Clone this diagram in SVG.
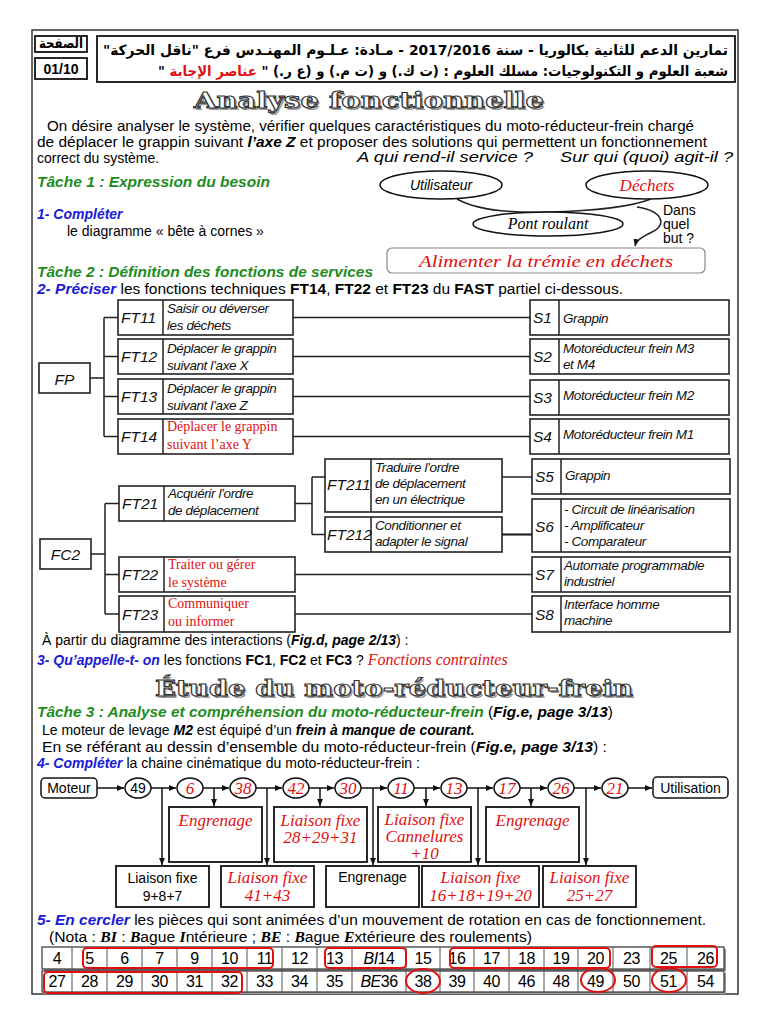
<svg xmlns="http://www.w3.org/2000/svg" width="768" height="1024" viewBox="0 0 768 1024">
<defs>
<style>
.t{font-family:"Liberation Sans",Arial,sans-serif;font-size:14px;fill:#000}
.it{font-style:italic}
.bd{font-weight:bold}
.gr{font-family:"Liberation Sans",Arial,sans-serif;font-size:14px;font-weight:bold;font-style:italic;fill:#1e8c1e}
.bl{font-weight:bold;font-style:italic;fill:#1a1ad6}
.rs{font-family:"Liberation Serif","Times New Roman",serif;font-style:italic;fill:#e01010}
.rn{font-family:"Liberation Serif","Times New Roman",serif;fill:#e01010;font-size:14px}
.box{fill:#fff;stroke:#222;stroke-width:1.6}
.ln{stroke:#222;stroke-width:1.5;fill:none}
.lbl{font-family:"Liberation Sans",Arial,sans-serif;font-style:italic;font-size:15.5px;fill:#111}
.dsc{font-family:"Liberation Sans",Arial,sans-serif;font-style:italic;font-size:13.5px;fill:#111;letter-spacing:-0.4px}
.ar{font-family:"DejaVu Sans",sans-serif;font-weight:bold;font-size:14px;fill:#000}
.ttl{font-family:"DejaVu Serif",serif;font-weight:bold;font-size:23px;fill:#fff;stroke:#333;stroke-width:1.1}
.sh{font-family:"DejaVu Serif",serif;font-weight:bold;font-size:23px;fill:#999}
.cb{fill:#fff;stroke:#111;stroke-width:1.8}
.cr{fill:#fff;stroke:#111;stroke-width:1.5}
.num{font-family:"Liberation Serif","Times New Roman",serif;font-style:italic;font-size:17px;fill:#e01010}
.tn{font-family:"Liberation Sans",Arial,sans-serif;font-size:16px;fill:#000;text-anchor:middle;letter-spacing:-0.5px}
.rg{fill:none;stroke:#e01010;stroke-width:2}
</style>
<marker id="ah" markerWidth="8" markerHeight="8" refX="7" refY="4" orient="auto" markerUnits="userSpaceOnUse"><path d="M0,1 L7,4 L0,7 z" fill="#111"/></marker>
</defs>
<rect width="768" height="1024" fill="#fff"/>
<rect x="32" y="30" width="706" height="964" fill="none" stroke="#333" stroke-width="1.5"/>
<g id="header">
<rect x="35" y="36" width="52" height="16" fill="#fff" stroke="#111" stroke-width="1.8"/>
<text x="61" y="48" class="ar" font-size="11" text-anchor="middle" textLength="44" lengthAdjust="spacingAndGlyphs">الصفحة</text>
<rect x="35" y="58" width="52" height="21" fill="#fff" stroke="#111" stroke-width="1.8"/>
<text x="61" y="74" class="t bd" font-size="16" text-anchor="middle">01/10</text>
<rect x="97" y="36" width="638" height="46" fill="#fff" stroke="#111" stroke-width="1.8"/>
<text x="728" y="55" class="ar" direction="rtl" text-anchor="start" textLength="625" lengthAdjust="spacingAndGlyphs">تمارين الدعم للثانية بكالوريا - سنة 2017/2016 - مـادة: عـلـوم المهنـدس فرع "ناقل الحركة"</text>
<text x="728" y="76" class="ar" direction="rtl" text-anchor="start" textLength="570" lengthAdjust="spacingAndGlyphs">شعبة العلوم و التكنولوجيات: مسلك العلوم : (ت ك.) و (ت م.) و (ع ر.) " <tspan fill="#e01010">عناصر الإجابة</tspan> "</text>
</g>
<text x="196" y="110" class="sh" textLength="350" lengthAdjust="spacingAndGlyphs">Analyse fonctionnelle</text>
<text x="194" y="108" class="ttl" textLength="350" lengthAdjust="spacingAndGlyphs">Analyse fonctionnelle</text>
<text x="47" y="131" class="t" textLength="647" lengthAdjust="spacingAndGlyphs">On désire analyser le système, vérifier quelques caractéristiques du moto-réducteur-frein chargé</text>
<text x="37" y="147" class="t" textLength="670" lengthAdjust="spacingAndGlyphs">de déplacer le grappin suivant <tspan class="bd it">l’axe Z</tspan> et proposer des solutions qui permettent un fonctionnement</text>
<text x="37" y="163" class="t">correct du système.</text>
<text x="357" y="162" class="t it" font-size="15" textLength="176" lengthAdjust="spacingAndGlyphs">A qui rend-il service ?</text>
<text x="560" y="162" class="t it" font-size="15" textLength="173" lengthAdjust="spacingAndGlyphs">Sur qui (quoi) agit-il ?</text>
<text x="37" y="187" class="gr" textLength="233" lengthAdjust="spacingAndGlyphs">Tâche 1 : Expression du besoin</text>
<text x="37" y="219" class="t bl">1- Compléter</text>
<text x="67" y="236" class="t">le diagramme « bête à cornes »</text>
<g id="connectors-bac">
<path class="ln" stroke-width="1.2" d="M457,199 C478,211 515,213 548,212 C592,211 628,208 651,199"/>
<path class="ln" stroke-width="1.2" d="M637,207 C662,211 668,224 652,232 C640,238 636,241 635,246" marker-end="url(#ah)"/>
</g>
<g id="n-utilisateur"><ellipse cx="441" cy="185" rx="61" ry="14" fill="#fff" stroke="#111" stroke-width="1.5"/><text x="441" y="190" class="t it" font-size="15" text-anchor="middle">Utilisateur</text></g>
<g id="n-dechets"><ellipse cx="647" cy="185" rx="61" ry="14" fill="#fff" stroke="#111" stroke-width="1.5"/><text x="647" y="191" class="rs" font-size="17" text-anchor="middle">Déchets</text></g>
<g id="n-pont"><ellipse cx="548" cy="224" rx="75" ry="12" fill="#fff" stroke="#111" stroke-width="1.5"/><text x="548" y="229" font-family="Liberation Serif,serif" font-style="italic" font-size="16" text-anchor="middle">Pont roulant</text></g>
<text x="663" y="215" class="t" font-size="13.5">Dans</text>
<text x="663" y="229" class="t" font-size="13.5">quel</text>
<text x="663" y="243" class="t" font-size="13.5">but ?</text>
<g id="n-but"><rect x="387" y="248" width="318" height="25" rx="5" fill="#fff" stroke="#888" stroke-width="1.2"/><text x="546" y="267" class="rs" font-size="17" text-anchor="middle" textLength="254" lengthAdjust="spacingAndGlyphs">Alimenter la trémie en déchets</text></g>
<text x="37" y="277" class="gr" textLength="336" lengthAdjust="spacingAndGlyphs">Tâche 2 : Définition des fonctions de services</text>
<text x="37" y="294" class="t" textLength="586" lengthAdjust="spacingAndGlyphs"><tspan class="bl">2- Préciser</tspan> les fonctions techniques <tspan class="bd">FT14</tspan>, <tspan class="bd">FT22</tspan> et <tspan class="bd">FT23</tspan> du <tspan class="bd">FAST</tspan> partiel ci-dessous.</text>
<g id="fast-connectors" class="ln">
<path d="M90,378 H104 M104,317.5 V436.5 M104,317.5 H118 M104,356.5 H118 M104,396.5 H118 M104,436.5 H118"/>
<path d="M293,317.5 H530 M293,356.5 H530 M293,396.5 H530 M293,436.5 H530"/>
<path d="M91,554 H105 M105,503.5 V614 M105,503.5 H119 M105,574.5 H119 M105,614 H119"/>
<path d="M295,503.5 H312 M312,477 V534.5 M312,477 H325 M312,534.5 H325"/>
<path d="M502,477 H532"/>
<path d="M502,534.5 H532" stroke-width="2.2"/>
<path d="M295,574.5 H532 M295,614 H532"/>
</g>
<g id="n-FP"><rect class="box" x="39" y="363" width="51" height="30"/><text x="64.5" y="385" class="lbl" font-size="19" text-anchor="middle">FP</text></g>
<g id="n-FT11"><rect class="box" x="118" y="300" width="175" height="35"/><path class="ln" d="M163,300 V335"/><text x="121" y="323" class="lbl">FT11</text><text x="167" y="313" class="dsc">Saisir ou déverser</text><text x="167" y="330" class="dsc">les déchets</text></g>
<g id="n-FT12"><rect class="box" x="118" y="339" width="175" height="35"/><path class="ln" d="M163,339 V374"/><text x="121" y="362" class="lbl">FT12</text><text x="167" y="353" class="dsc">Déplacer le grappin</text><text x="167" y="370" class="dsc">suivant l’axe X</text></g>
<g id="n-FT13"><rect class="box" x="118" y="379" width="175" height="35"/><path class="ln" d="M163,379 V414"/><text x="121" y="402" class="lbl">FT13</text><text x="167" y="393" class="dsc">Déplacer le grappin</text><text x="167" y="410" class="dsc">suivant l’axe Z</text></g>
<g id="n-FT14"><rect class="box" x="118" y="419" width="175" height="35"/><path class="ln" d="M163,419 V454"/><text x="121" y="442" class="lbl">FT14</text><text x="167" y="431" class="rn">Déplacer le grappin</text><text x="167" y="449" class="rn">suivant l’axe Y</text></g>
<g id="n-S1"><rect class="box" x="530" y="300" width="199" height="35"/><path class="ln" d="M559,300 V335"/><text x="533" y="323" class="lbl">S1</text><text x="563" y="323" class="dsc">Grappin</text></g>
<g id="n-S2"><rect class="box" x="530" y="339" width="199" height="35"/><path class="ln" d="M559,339 V374"/><text x="533" y="362" class="lbl">S2</text><text x="563" y="353" class="dsc">Motoréducteur frein M3</text><text x="563" y="369" class="dsc">et M4</text></g>
<g id="n-S3"><rect class="box" x="530" y="380" width="199" height="35"/><path class="ln" d="M559,380 V415"/><text x="533" y="403" class="lbl">S3</text><text x="563" y="400" class="dsc">Motoréducteur frein M2</text></g>
<g id="n-S4"><rect class="box" x="530" y="419" width="199" height="35"/><path class="ln" d="M559,419 V454"/><text x="533" y="442" class="lbl">S4</text><text x="563" y="439" class="dsc">Motoréducteur frein M1</text></g>
<g id="n-FC2"><rect class="box" x="40" y="539" width="51" height="30"/><text x="65.5" y="560" class="lbl" font-size="18" text-anchor="middle">FC2</text></g>
<g id="n-FT21"><rect class="box" x="119" y="486" width="176" height="35"/><path class="ln" d="M164,486 V521"/><text x="122" y="509" class="lbl">FT21</text><text x="168" y="498" class="dsc">Acquérir l’ordre</text><text x="168" y="515" class="dsc">de déplacement</text></g>
<g id="n-FT211"><rect class="box" x="325" y="459" width="177" height="53"/><path class="ln" d="M371,459 V512"/><text x="327" y="490" class="lbl" font-size="14">FT211</text><text x="375" y="472" class="dsc">Traduire l’ordre</text><text x="375" y="488" class="dsc">de déplacement</text><text x="375" y="504" class="dsc">en un électrique</text></g>
<g id="n-FT212"><rect class="box" x="325" y="517" width="177" height="35"/><path class="ln" d="M371,517 V552"/><text x="327" y="540" class="lbl" font-size="14">FT212</text><text x="375" y="530" class="dsc">Conditionner et</text><text x="375" y="546" class="dsc">adapter le signal</text></g>
<g id="n-FT22"><rect class="box" x="119" y="557" width="176" height="35"/><path class="ln" d="M164,557 V592"/><text x="122" y="580" class="lbl">FT22</text><text x="168" y="569" class="rn">Traiter ou gérer</text><text x="168" y="587" class="rn">le système</text></g>
<g id="n-FT23"><rect class="box" x="119" y="596" width="176" height="36"/><path class="ln" d="M164,596 V632"/><text x="122" y="620" class="lbl">FT23</text><text x="168" y="608" class="rn">Communiquer</text><text x="168" y="626" class="rn">ou informer</text></g>
<g id="n-S5"><rect class="box" x="532" y="459" width="198" height="35"/><path class="ln" d="M561,459 V494"/><text x="535" y="482" class="lbl">S5</text><text x="565" y="480" class="dsc">Grappin</text></g>
<g id="n-S6"><rect class="box" x="532" y="499" width="198" height="53"/><path class="ln" d="M561,499 V552"/><text x="535" y="532" class="lbl">S6</text><text x="564" y="514" class="dsc">- Circuit de linéarisation</text><text x="564" y="530" class="dsc">- Amplificateur</text><text x="564" y="546" class="dsc">- Comparateur</text></g>
<g id="n-S7"><rect class="box" x="532" y="557" width="198" height="35"/><path class="ln" d="M561,557 V592"/><text x="535" y="580" class="lbl">S7</text><text x="564" y="570" class="dsc">Automate programmable</text><text x="564" y="586" class="dsc">industriel</text></g>
<g id="n-S8"><rect class="box" x="532" y="596" width="198" height="36"/><path class="ln" d="M561,596 V632"/><text x="535" y="620" class="lbl">S8</text><text x="564" y="609" class="dsc">Interface homme</text><text x="564" y="625" class="dsc">machine</text></g>
<text x="42" y="645" class="t">À partir du diagramme des interactions (<tspan class="bd it">Fig.d, page 2/13</tspan>) :</text>
<text x="37" y="665" class="t"><tspan class="bl">3- Qu’appelle-t- on</tspan> les fonctions <tspan class="bd">FC1</tspan>, <tspan class="bd">FC2</tspan> et <tspan class="bd">FC3</tspan> ? <tspan class="rs" font-size="16">Fonctions contraintes</tspan></text>
<text x="157" y="698" class="sh" textLength="478" lengthAdjust="spacingAndGlyphs">Étude du moto-réducteur-frein</text>
<text x="155" y="696" class="ttl" textLength="478" lengthAdjust="spacingAndGlyphs">Étude du moto-réducteur-frein</text>
<text x="37" y="717" class="t" textLength="576" lengthAdjust="spacingAndGlyphs"><tspan class="gr">Tâche 3 : Analyse et compréhension du moto-réducteur-frein</tspan> (<tspan class="bd it">Fig.e, page 3/13</tspan>)</text>
<text x="42" y="735" class="t">Le moteur de levage <tspan class="bd it">M2</tspan> est équipé d’un <tspan class="bd it">frein à manque de courant.</tspan></text>
<text x="42" y="752" class="t" textLength="565" lengthAdjust="spacingAndGlyphs">En se référant au dessin d’ensemble du moto-réducteur-frein (<tspan class="bd it">Fig.e, page 3/13</tspan>) :</text>
<text x="37" y="768" class="t"><tspan class="bl">4- Compléter</tspan> la chaine cinématique du moto-réducteur-frein :</text>
<g id="chain-connectors" stroke="#111" stroke-width="1.5" fill="none">
<path d="M97,788 H124" marker-end="url(#ah)"/>
<path d="M151,788 H176" marker-end="url(#ah)"/>
<path d="M203,788 H229" marker-end="url(#ah)"/>
<path d="M256,788 H282" marker-end="url(#ah)"/>
<path d="M309,788 H334" marker-end="url(#ah)"/>
<path d="M361,788 H387" marker-end="url(#ah)"/>
<path d="M414,788 H440" marker-end="url(#ah)"/>
<path d="M467,788 H493" marker-end="url(#ah)"/>
<path d="M520,788 H547" marker-end="url(#ah)"/>
<path d="M574,788 H601" marker-end="url(#ah)"/>
<path d="M628,788 H652" marker-end="url(#ah)"/>
<path d="M162,788 V865" marker-end="url(#ah)"/>
<path d="M214,788 V806" marker-end="url(#ah)"/>
<path d="M267,788 V865" marker-end="url(#ah)"/>
<path d="M320,788 V806" marker-end="url(#ah)"/>
<path d="M373,788 V865" marker-end="url(#ah)"/>
<path d="M426,788 V806" marker-end="url(#ah)"/>
<path d="M478,788 V865" marker-end="url(#ah)"/>
<path d="M531,788 V806" marker-end="url(#ah)"/>
<path d="M586,788 V865" marker-end="url(#ah)"/>
</g>
<g id="n-moteur"><rect x="41" y="778" width="56" height="20" rx="4" fill="#fff" stroke="#111" stroke-width="1.5"/><text x="69" y="793" class="t" font-size="14.5" text-anchor="middle">Moteur</text></g>
<g id="n-c49"><ellipse class="cr" cx="138" cy="788" rx="13" ry="10"/><text x="138" y="793" class="t" font-size="15" text-anchor="middle">49</text></g>
<g id="n-c6"><ellipse class="cr" cx="190" cy="788" rx="13" ry="10"/><text x="190" y="794" class="num" text-anchor="middle">6</text></g>
<g id="n-c38"><ellipse class="cr" cx="243" cy="788" rx="13" ry="10"/><text x="243" y="794" class="num" text-anchor="middle">38</text></g>
<g id="n-c42"><ellipse class="cr" cx="296" cy="788" rx="13" ry="10"/><text x="296" y="794" class="num" text-anchor="middle">42</text></g>
<g id="n-c30"><ellipse class="cr" cx="348" cy="788" rx="13" ry="10"/><text x="348" y="794" class="num" text-anchor="middle">30</text></g>
<g id="n-c11"><ellipse class="cr" cx="401" cy="788" rx="13" ry="10"/><text x="401" y="794" class="num" text-anchor="middle">11</text></g>
<g id="n-c13"><ellipse class="cr" cx="454" cy="788" rx="13" ry="10"/><text x="454" y="794" class="num" text-anchor="middle">13</text></g>
<g id="n-c17"><ellipse class="cr" cx="507" cy="788" rx="13" ry="10"/><text x="507" y="794" class="num" text-anchor="middle">17</text></g>
<g id="n-c26"><ellipse class="cr" cx="561" cy="788" rx="13" ry="10"/><text x="561" y="794" class="num" text-anchor="middle">26</text></g>
<g id="n-c21"><ellipse class="cr" cx="615" cy="788" rx="13" ry="10"/><text x="615" y="794" class="num" text-anchor="middle">21</text></g>
<g id="n-util"><rect x="653" y="777" width="75" height="21" rx="4" fill="#fff" stroke="#111" stroke-width="1.5"/><text x="690.5" y="793" class="t" font-size="14.5" text-anchor="middle">Utilisation</text></g>
<g id="n-eng1"><rect class="cb" x="169" y="807" width="93" height="55"/><text x="215.5" y="826" class="num" text-anchor="middle">Engrenage</text></g>
<g id="n-lf2"><rect class="cb" x="274" y="807" width="93" height="55"/><text x="320.5" y="826" class="num" text-anchor="middle">Liaison fixe</text><text x="320.5" y="843" class="num" text-anchor="middle">28+29+31</text></g>
<g id="n-lf3"><rect class="cb" x="378" y="807" width="93" height="55"/><text x="424.5" y="825" class="num" font-size="16" text-anchor="middle">Liaison fixe</text><text x="424.5" y="842" class="num" font-size="16" text-anchor="middle">Cannelures</text><text x="424.5" y="859" class="num" font-size="16" text-anchor="middle">+10</text></g>
<g id="n-eng4"><rect class="cb" x="486" y="807" width="93" height="55"/><text x="532.5" y="826" class="num" text-anchor="middle">Engrenage</text></g>
<g id="n-lf5"><rect class="cb" x="116" y="866" width="93" height="41"/><text x="162.5" y="883" class="t" font-size="15" text-anchor="middle">Liaison fixe</text><text x="162.5" y="901" class="t" font-size="15" text-anchor="middle">9+8+7</text></g>
<g id="n-lf6"><rect class="cb" x="221" y="866" width="93" height="41"/><text x="267.5" y="883" class="num" text-anchor="middle">Liaison fixe</text><text x="267.5" y="901" class="num" text-anchor="middle">41+43</text></g>
<g id="n-eng7"><rect class="cb" x="326" y="866" width="93" height="41"/><text x="372.5" y="882" class="t" font-size="15" text-anchor="middle">Engrenage</text></g>
<g id="n-lf8"><rect class="cb" x="422" y="866" width="117" height="41"/><text x="480.5" y="883" class="num" text-anchor="middle">Liaison fixe</text><text x="480.5" y="901" class="num" text-anchor="middle">16+18+19+20</text></g>
<g id="n-lf9"><rect class="cb" x="543" y="866" width="93" height="41"/><text x="589.5" y="883" class="num" text-anchor="middle">Liaison fixe</text><text x="589.5" y="901" class="num" text-anchor="middle">25+27</text></g>
<text x="37" y="925" class="t" textLength="669" lengthAdjust="spacingAndGlyphs"><tspan class="bl">5- En cercler</tspan> les pièces qui sont animées d’un mouvement de rotation en cas de fonctionnement.</text>
<text x="49" y="942" class="t" textLength="483" lengthAdjust="spacingAndGlyphs">(Nota : <tspan font-family="Liberation Serif,serif" class="bd it">BI</tspan> : <tspan font-family="Liberation Serif,serif" class="bd it">B</tspan>ague <tspan font-family="Liberation Serif,serif" class="bd it">I</tspan>ntérieure ; <tspan font-family="Liberation Serif,serif" class="bd it">BE</tspan> : <tspan font-family="Liberation Serif,serif" class="bd it">B</tspan>ague <tspan font-family="Liberation Serif,serif" class="bd it">E</tspan>xtérieure des roulements)</text>
<g id="table">
<rect x="44" y="949" width="682" height="22" fill="#999"/>
<rect x="44" y="973" width="682" height="21" fill="#999"/>
<rect x="42" y="947" width="682" height="22" fill="#fff" stroke="#333" stroke-width="1.2"/>
<rect x="42" y="971" width="682" height="21" fill="#fff" stroke="#333" stroke-width="1.2"/>
<path d="M72,947V992 M107,947V992 M142,947V992 M177,947V992 M212,947V992 M247,947V992 M282,947V992 M317,947V992 M352,947V992 M406,947V992 M440,947V992 M474,947V992 M509,947V992 M544,947V992 M578,947V992 M613,947V992 M650,947V992 M687,947V992" stroke="#555" stroke-width="1"/>
<g>
<text x="57" y="964" class="tn">4</text><text x="89.5" y="964" class="tn">5</text><text x="124.5" y="964" class="tn">6</text><text x="159.5" y="964" class="tn">7</text><text x="194.5" y="964" class="tn">9</text><text x="229.5" y="964" class="tn">10</text><text x="264.5" y="964" class="tn">11</text><text x="299.5" y="964" class="tn">12</text><text x="334.5" y="964" class="tn">13</text>
<text x="379" y="964" class="tn" font-family="Liberation Serif,serif"><tspan font-style="italic">BI</tspan>14</text>
<text x="423" y="964" class="tn">15</text><text x="457" y="964" class="tn">16</text><text x="491.5" y="964" class="tn">17</text><text x="526.5" y="964" class="tn">18</text><text x="561" y="964" class="tn">19</text><text x="595.5" y="964" class="tn">20</text><text x="631.5" y="964" class="tn">23</text><text x="668.5" y="964" class="tn">25</text><text x="705.5" y="964" class="tn">26</text>
<text x="57" y="987" class="tn">27</text><text x="89.5" y="987" class="tn">28</text><text x="124.5" y="987" class="tn">29</text><text x="159.5" y="987" class="tn">30</text><text x="194.5" y="987" class="tn">31</text><text x="229.5" y="987" class="tn">32</text><text x="264.5" y="987" class="tn">33</text><text x="299.5" y="987" class="tn">34</text><text x="334.5" y="987" class="tn">35</text>
<text x="379" y="987" class="tn" font-family="Liberation Serif,serif"><tspan font-style="italic">BE</tspan>36</text>
<text x="423" y="987" class="tn">38</text><text x="457" y="987" class="tn">39</text><text x="491.5" y="987" class="tn">40</text><text x="526.5" y="987" class="tn">46</text><text x="561" y="987" class="tn">48</text><text x="595.5" y="987" class="tn">49</text><text x="631.5" y="987" class="tn">50</text><text x="668.5" y="987" class="tn">51</text><text x="705.5" y="987" class="tn">54</text>
</g>
<rect class="rg" x="83" y="948" width="190" height="20" rx="4"/>
<rect class="rg" x="325" y="948" width="81" height="20" rx="4"/>
<rect class="rg" x="450" y="948" width="160" height="20" rx="4"/>
<rect class="rg" x="652" y="946" width="65" height="21" rx="4"/>
<rect class="rg" x="44" y="972" width="198" height="21" rx="4"/>
<ellipse class="rg" cx="423" cy="981" rx="17" ry="12"/>
<ellipse class="rg" cx="598" cy="980" rx="17" ry="12"/>
<ellipse class="rg" cx="669" cy="980" rx="17" ry="12"/>
</g>
</svg>
